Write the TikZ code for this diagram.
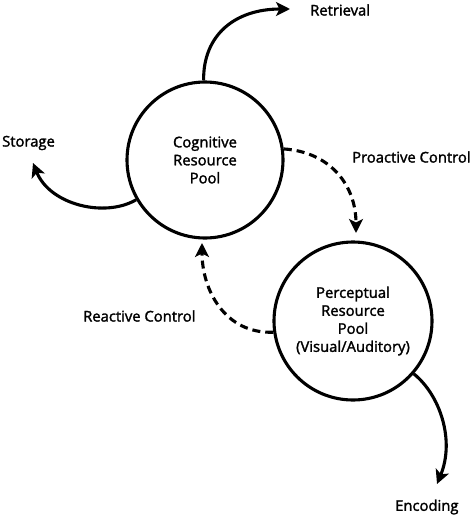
\documentclass[tikz,border=0pt]{standalone}
\usepackage{fontspec}
\setmainfont{Open Sans}[FakeBold=1.8]
\usetikzlibrary{arrows.meta}
\begin{document}
\begin{tikzpicture}[x=1pt,y=-1pt,
  pool/.style={circle,draw,line width=3.1pt,minimum size=156pt,inner sep=0pt,align=center,font=\fontsize{14.8}{18}\selectfont},
  lbl/.style={font=\fontsize{14.8}{18}\selectfont,inner sep=0pt},
  flow/.style={line width=3.1pt,-{Stealth[length=14pt,width=14pt,inset=3.5pt]}},
  ctrl/.style={flow,dash pattern=on 8pt off 5pt}]
\useasboundingbox (0,0) rectangle (474,517);
\node[pool] (c1) at (205,160) {Cognitive\\Resource\\Pool};
\node[pool,minimum size=158pt] (c2) at (353,321) {Perceptual\\Resource\\Pool\\(Visual/Auditory)};
\coordinate (tr) at (290,9);
\coordinate (ts) at (33,163);
\coordinate (tp) at (356,233);
\coordinate (tq) at (202,243);
\coordinate (te) at (437,484);
\node[lbl,anchor=west] (lr) at (310,10) {Retrieval};
\node[lbl,anchor=west] (ls) at (2,143) {Storage};
\node[lbl,anchor=west] (lp) at (352,157) {Proactive Control};
\node[lbl,anchor=west] (lq) at (83,316) {Reactive Control};
\node[lbl,anchor=west] (le) at (395,507) {Encoding};
\draw[flow] (c1.91) .. controls (203,35) and (235,9) .. (tr);
\draw[flow] (c1.210) .. controls (105,218) and (50,205) .. (ts);
\draw[ctrl] (c1.8) .. controls (330,152) and (356,185) .. (tp);
\draw[ctrl] (c2.188) .. controls (225,334) and (202,290) .. (tq);
\draw[flow] (c2.-41) .. controls (440,395) and (455,440) .. (te);
\end{tikzpicture}
\end{document}
